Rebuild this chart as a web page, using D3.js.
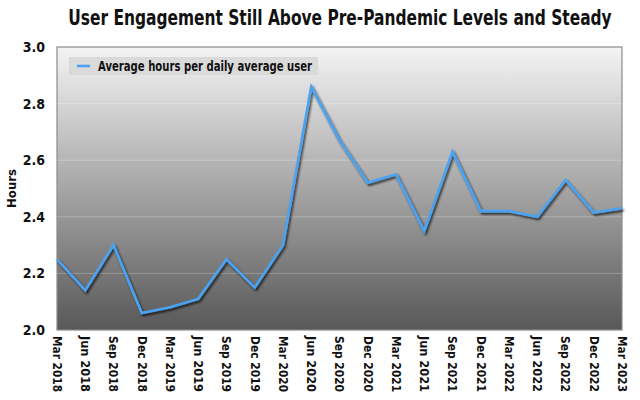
<!DOCTYPE html>
<html>
<head>
<meta charset="utf-8">
<script src="https://cdn.jsdelivr.net/npm/d3@7"></script>
<style>
  body { margin: 0; background: #fff; }
  text { font-family: "DejaVu Sans", "Liberation Sans", sans-serif; font-stretch: condensed; font-weight: bold; fill: #111; }
</style>
</head>
<body>
<div id="chart"></div>
<script>
const quarters = ["Mar 2018", "Jun 2018", "Sep 2018", "Dec 2018", "Mar 2019", "Jun 2019", "Sep 2019",
    "Dec 2019", "Mar 2020", "Jun 2020", "Sep 2020", "Dec 2020", "Mar 2021", "Jun 2021", "Sep 2021",
    "Dec 2021", "Mar 2022", "Jun 2022", "Sep 2022", "Dec 2022", "Mar 2023"];
const hours = [2.25, 2.14, 2.30, 2.06, 2.08, 2.11, 2.25, 2.15, 2.30, 2.86, 2.67, 2.52, 2.55, 2.35, 2.63,
    2.42, 2.42, 2.40, 2.53, 2.415, 2.43];
const yTicks = [2.0, 2.2, 2.4, 2.6, 2.8, 3.0];

const width = 640, height = 400;
const margin = { top: 47, right: 18, bottom: 70, left: 57 };

const svg = d3.select("#chart").append("svg")
    .attr("width", width)
    .attr("height", height);

const defs = svg.append("defs");
const grad = defs.append("linearGradient")
    .attr("id", "bg")
    .attr("x1", 0).attr("y1", 0).attr("x2", 0).attr("y2", 1);
grad.append("stop").attr("offset", "0%").attr("stop-color", "#f4f4f4");
grad.append("stop").attr("offset", "100%").attr("stop-color", "#585858");

const shadow = defs.append("filter").attr("id", "shadow")
    .attr("x", "-10%").attr("y", "-10%").attr("width", "120%").attr("height", "120%");
shadow.append("feDropShadow")
    .attr("dx", 1.5).attr("dy", 2).attr("stdDeviation", 1.2)
    .attr("flood-color", "#000").attr("flood-opacity", 0.75);

const x = d3.scalePoint()
    .domain(quarters)
    .range([margin.left, width - margin.right]);

const y = d3.scaleLinear()
    .domain([2.0, 3.0])
    .range([height - margin.bottom, margin.top]);

// squeeze a text to a target width by shrinking the font and stretching it back vertically
function condense(sel, cx, baseY, size, targetWidth) {
    sel.style("font-size", size + "px");
    const natural = sel.node().getComputedTextLength();
    const fs = Math.min(size, size * targetWidth / natural);
    const k = size / fs;
    sel.style("font-size", fs + "px")
        .attr("x", 0).attr("y", 0)
        .attr("transform", `translate(${cx},${baseY}) scale(1,${k})`);
}

// plot background
svg.append("rect")
    .attr("x", margin.left)
    .attr("y", margin.top)
    .attr("width", width - margin.left - margin.right)
    .attr("height", height - margin.top - margin.bottom)
    .attr("fill", "url(#bg)")
    .attr("stroke", "#8a8a8a")
    .attr("stroke-width", 1.2);

// grid
svg.selectAll(".grid")
    .data(yTicks.slice(1, -1))
    .enter()
    .append("line")
    .attr("class", "grid")
    .attr("x1", margin.left)
    .attr("x2", width - margin.right)
    .attr("y1", d => y(d))
    .attr("y2", d => y(d))
    .attr("stroke", "#ffffff")
    .attr("stroke-opacity", 0.25)
    .attr("stroke-width", 1);

// y axis
const yAxis = svg.append("g")
    .attr("transform", `translate(${margin.left},0)`)
    .call(d3.axisLeft(y).tickValues(yTicks).tickFormat(d3.format(".1f")).tickSize(0).tickPadding(12));
yAxis.select(".domain").remove();
yAxis.selectAll("text")
    .style("font-size", "14px")
    .attr("fill", "#111");

// x axis
const xAxis = svg.append("g")
    .attr("transform", `translate(0,${height - margin.bottom})`)
    .call(d3.axisBottom(x).tickSize(0));
xAxis.select(".domain").remove();
xAxis.selectAll("text")
    .style("font-size", "13px")
    .attr("fill", "#111")
    .attr("text-anchor", "start")
    .attr("transform", "rotate(90)")
    .attr("x", 6)
    .attr("y", 0)
    .attr("dy", "0.35em")
    .attr("textLength", 56)
    .attr("lengthAdjust", "spacingAndGlyphs");

// axis label
svg.append("text")
    .attr("transform", `translate(16,${(margin.top + height - margin.bottom) / 2}) rotate(-90)`)
    .attr("text-anchor", "middle")
    .style("font-size", "13px")
    .text("Hours");

// title
const title = svg.append("text")
    .attr("text-anchor", "middle")
    .text("User Engagement Still Above Pre-Pandemic Levels and Steady");
condense(title, 340, 25, 21, 544);

// line
const line = d3.line()
    .x((d, i) => x(quarters[i]))
    .y(d => y(d));

svg.append("path")
    .datum(hours)
    .attr("d", line)
    .attr("fill", "none")
    .attr("stroke", "#4aa3f2")
    .attr("stroke-width", 2.6)
    .attr("stroke-linejoin", "miter")
    .attr("filter", "url(#shadow)");

// legend
const legend = svg.append("g").attr("transform", "translate(69,57)");
legend.append("rect")
    .attr("width", 249)
    .attr("height", 18)
    .attr("fill", "#dadada");
legend.append("line")
    .attr("x1", 8).attr("x2", 21)
    .attr("y1", 9).attr("y2", 9)
    .attr("stroke", "#4aa3f2")
    .attr("stroke-width", 2.6);
legend.append("text")
    .attr("x", 29)
    .attr("y", 14)
    .style("font-size", "14px")
    .attr("textLength", 214)
    .attr("lengthAdjust", "spacingAndGlyphs")
    .text("Average hours per daily average user");
</script>
</body>
</html>
